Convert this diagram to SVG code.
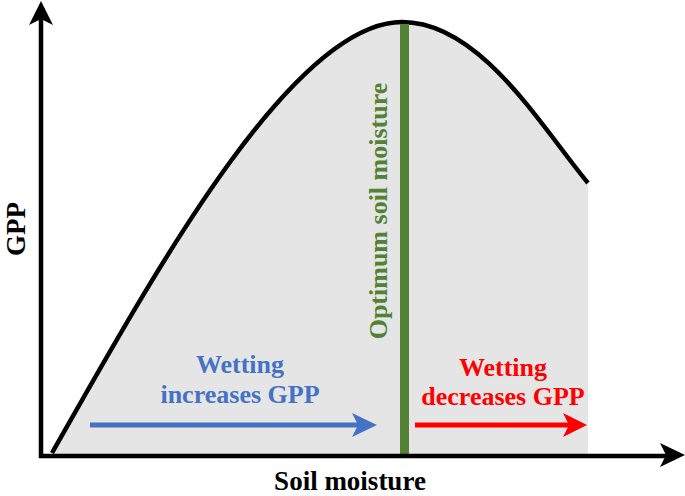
<svg xmlns="http://www.w3.org/2000/svg" width="685" height="496" viewBox="0 0 685 496">
<style>
  text { font-family: "Liberation Serif", "Times New Roman", serif; font-weight: bold; }
  .axis { stroke: #000; stroke-width: 4.5; fill: none; }
  .lbl { font-size: 27px; fill: #000; }
  .blue { font-size: 26px; fill: #4472c4; text-anchor: middle; }
  .red { font-size: 26px; fill: #ff0000; text-anchor: middle; }
  .green { font-size: 26px; fill: #538135; text-anchor: middle; }
</style>
<rect width="685" height="496" fill="#fff"/>
<g id="area">
  <path d="M52,456 L52,453 C152,277 292,22 402,22 C480,22 540,125 588,183 L588,456 Z" fill="#e5e5e5"/>
</g>
<g id="curve">
  <path d="M52,453 C152,277 292,22 402,22 C480,22 540,125 588,183" fill="none" stroke="#000" stroke-width="4.5"/>
</g>
<g id="optimum">
  <line x1="404.5" y1="24" x2="404.5" y2="455" stroke="#538135" stroke-width="9"/>
  <text class="green" transform="translate(387,211) rotate(-90)">Optimum soil moisture</text>
</g>
<g id="connectors">
  <line x1="90" y1="425" x2="360" y2="425" stroke="#4472c4" stroke-width="5"/>
  <polygon points="377,425 352,413 358,425 352,437" fill="#4472c4"/>
  <line x1="415" y1="425" x2="570" y2="425" stroke="#ff0000" stroke-width="5"/>
  <polygon points="587,425 563,413 569,425 563,437" fill="#ff0000"/>
</g>
<g id="axes">
  <line class="axis" x1="41" y1="458" x2="41" y2="18"/>
  <polygon points="41,1 53,25 41,19 29,25" fill="#000"/>
  <line class="axis" x1="39" y1="456" x2="668" y2="456"/>
  <polygon points="685,455 660,443 666,455 660,467" fill="#000"/>
</g>
<g id="increase-label">
  <text class="blue" x="240" y="373">Wetting</text>
  <text class="blue" x="240" y="403">increases GPP</text>
</g>
<g id="decrease-label">
  <text class="red" x="503" y="376">Wetting</text>
  <text class="red" x="503" y="405">decreases GPP</text>
</g>
<g id="axis-labels">
  <text class="lbl" x="350" y="490" text-anchor="middle">Soil moisture</text>
  <text class="lbl" text-anchor="middle" transform="translate(25,229) rotate(-90)">GPP</text>
</g>
</svg>
